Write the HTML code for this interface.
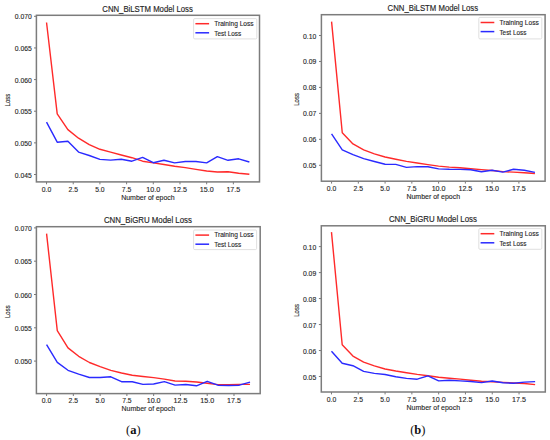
<!DOCTYPE html>
<html><head><meta charset="utf-8"><style>
html,body{margin:0;padding:0;background:#fff;}
svg{display:block;}

text{font-family:"Liberation Sans",sans-serif;fill:#262626;stroke:#262626;stroke-width:0.12px;}
.t{stroke-width:0.16px;}
.cap{font-family:"Liberation Serif",serif;fill:#111;stroke:none;}
</style></head><body><div>
<svg width="550" height="440" viewBox="0 0 550 440">
<rect width="550" height="440" fill="#fff"/>
<text class="t" x="147.55" y="11.5" font-size="8.6" text-anchor="middle" textLength="90.5" lengthAdjust="spacingAndGlyphs">CNN_BiLSTM Model Loss</text>
<line x1="34" y1="16.3" x2="36.4" y2="16.3" stroke="#6a6a6a" stroke-width="0.9"/>
<text x="31.8" y="19.3" font-size="6.8" text-anchor="end">0.070</text>
<line x1="34" y1="47.94" x2="36.4" y2="47.94" stroke="#6a6a6a" stroke-width="0.9"/>
<text x="31.8" y="50.94" font-size="6.8" text-anchor="end">0.065</text>
<line x1="34" y1="79.58" x2="36.4" y2="79.58" stroke="#6a6a6a" stroke-width="0.9"/>
<text x="31.8" y="82.58" font-size="6.8" text-anchor="end">0.060</text>
<line x1="34" y1="111.22" x2="36.4" y2="111.22" stroke="#6a6a6a" stroke-width="0.9"/>
<text x="31.8" y="114.22" font-size="6.8" text-anchor="end">0.055</text>
<line x1="34" y1="142.86" x2="36.4" y2="142.86" stroke="#6a6a6a" stroke-width="0.9"/>
<text x="31.8" y="145.86" font-size="6.8" text-anchor="end">0.050</text>
<line x1="34" y1="174.5" x2="36.4" y2="174.5" stroke="#6a6a6a" stroke-width="0.9"/>
<text x="31.8" y="177.5" font-size="6.8" text-anchor="end">0.045</text>
<line x1="46.54" y1="181.9" x2="46.54" y2="184.3" stroke="#6a6a6a" stroke-width="0.9"/>
<text x="46.54" y="191.7" font-size="6.8" text-anchor="middle">0.0</text>
<line x1="73.23" y1="181.9" x2="73.23" y2="184.3" stroke="#6a6a6a" stroke-width="0.9"/>
<text x="73.23" y="191.7" font-size="6.8" text-anchor="middle">2.5</text>
<line x1="99.91" y1="181.9" x2="99.91" y2="184.3" stroke="#6a6a6a" stroke-width="0.9"/>
<text x="99.91" y="191.7" font-size="6.8" text-anchor="middle">5.0</text>
<line x1="126.6" y1="181.9" x2="126.6" y2="184.3" stroke="#6a6a6a" stroke-width="0.9"/>
<text x="126.6" y="191.7" font-size="6.8" text-anchor="middle">7.5</text>
<line x1="153.29" y1="181.9" x2="153.29" y2="184.3" stroke="#6a6a6a" stroke-width="0.9"/>
<text x="153.29" y="191.7" font-size="6.8" text-anchor="middle" textLength="13.9" lengthAdjust="spacingAndGlyphs">10.0</text>
<line x1="179.97" y1="181.9" x2="179.97" y2="184.3" stroke="#6a6a6a" stroke-width="0.9"/>
<text x="179.97" y="191.7" font-size="6.8" text-anchor="middle" textLength="13.9" lengthAdjust="spacingAndGlyphs">12.5</text>
<line x1="206.66" y1="181.9" x2="206.66" y2="184.3" stroke="#6a6a6a" stroke-width="0.9"/>
<text x="206.66" y="191.7" font-size="6.8" text-anchor="middle" textLength="13.9" lengthAdjust="spacingAndGlyphs">15.0</text>
<line x1="233.35" y1="181.9" x2="233.35" y2="184.3" stroke="#6a6a6a" stroke-width="0.9"/>
<text x="233.35" y="191.7" font-size="6.8" text-anchor="middle" textLength="13.9" lengthAdjust="spacingAndGlyphs">17.5</text>
<text x="147.95" y="199.7" font-size="7.2" text-anchor="middle" textLength="53.6" lengthAdjust="spacingAndGlyphs">Number of epoch</text>
<text x="0" y="0" font-size="6.9" text-anchor="middle" textLength="12.8" lengthAdjust="spacingAndGlyphs" transform="translate(10.2,100.1) rotate(-90)">Loss</text>
<polyline points="46.54,22.5 57.22,113.9 67.89,129.6 78.56,138.2 89.24,144.6 99.91,149.3 110.59,152.1 121.26,155 131.94,157.7 142.61,161.2 153.29,162.9 163.96,164.5 174.64,166.2 185.31,167.6 195.99,169.4 206.66,171 217.34,172 228.01,171.8 238.68,173.3 249.36,174.3" fill="none" stroke="#ff2a2a" stroke-width="1.4" stroke-linejoin="round"/>
<polyline points="46.54,122.1 57.22,142.2 67.89,141.2 78.56,152.1 89.24,155.5 99.91,159.4 110.59,160.1 121.26,159.2 131.94,161.2 142.61,157.4 153.29,162.7 163.96,160.2 174.64,162.9 185.31,161.5 195.99,161.5 206.66,162.9 217.34,156.7 228.01,160.3 238.68,158.8 249.36,162" fill="none" stroke="#2a2aff" stroke-width="1.4" stroke-linejoin="round"/>
<rect x="193.6" y="18.6" width="63.2" height="20.3" rx="1.2" fill="#fff" fill-opacity="0.8" stroke="#d8d8d8" stroke-width="0.8"/>
<line x1="195.4" y1="23.7" x2="209.1" y2="23.7" stroke="#ff2a2a" stroke-width="1.5"/>
<line x1="195.4" y1="32.8" x2="209.1" y2="32.8" stroke="#2a2aff" stroke-width="1.5"/>
<text x="214.2" y="25.9" font-size="6.6" textLength="39.4" lengthAdjust="spacingAndGlyphs">Training Loss</text>
<text x="214.2" y="35.7" font-size="6.6" textLength="27" lengthAdjust="spacingAndGlyphs">Test Loss</text>
<rect x="36.4" y="15.3" width="223.1" height="166.6" fill="none" stroke="#7c7c7c" stroke-width="1.5"/>
<text class="t" x="432.85" y="10.9" font-size="8.6" text-anchor="middle" textLength="90.5" lengthAdjust="spacingAndGlyphs">CNN_BiLSTM Model Loss</text>
<line x1="319" y1="35.5" x2="321.4" y2="35.5" stroke="#6a6a6a" stroke-width="0.9"/>
<text x="316.3" y="38.5" font-size="6.8" text-anchor="end">0.10</text>
<line x1="319" y1="61.46" x2="321.4" y2="61.46" stroke="#6a6a6a" stroke-width="0.9"/>
<text x="316.3" y="64.46" font-size="6.8" text-anchor="end">0.09</text>
<line x1="319" y1="87.42" x2="321.4" y2="87.42" stroke="#6a6a6a" stroke-width="0.9"/>
<text x="316.3" y="90.42" font-size="6.8" text-anchor="end">0.08</text>
<line x1="319" y1="113.38" x2="321.4" y2="113.38" stroke="#6a6a6a" stroke-width="0.9"/>
<text x="316.3" y="116.38" font-size="6.8" text-anchor="end">0.07</text>
<line x1="319" y1="139.34" x2="321.4" y2="139.34" stroke="#6a6a6a" stroke-width="0.9"/>
<text x="316.3" y="142.34" font-size="6.8" text-anchor="end">0.06</text>
<line x1="319" y1="165.3" x2="321.4" y2="165.3" stroke="#6a6a6a" stroke-width="0.9"/>
<text x="316.3" y="168.3" font-size="6.8" text-anchor="end">0.05</text>
<line x1="331.57" y1="181.2" x2="331.57" y2="183.6" stroke="#6a6a6a" stroke-width="0.9"/>
<text x="331.57" y="191" font-size="6.8" text-anchor="middle">0.0</text>
<line x1="358.33" y1="181.2" x2="358.33" y2="183.6" stroke="#6a6a6a" stroke-width="0.9"/>
<text x="358.33" y="191" font-size="6.8" text-anchor="middle">2.5</text>
<line x1="385.08" y1="181.2" x2="385.08" y2="183.6" stroke="#6a6a6a" stroke-width="0.9"/>
<text x="385.08" y="191" font-size="6.8" text-anchor="middle">5.0</text>
<line x1="411.84" y1="181.2" x2="411.84" y2="183.6" stroke="#6a6a6a" stroke-width="0.9"/>
<text x="411.84" y="191" font-size="6.8" text-anchor="middle">7.5</text>
<line x1="438.6" y1="181.2" x2="438.6" y2="183.6" stroke="#6a6a6a" stroke-width="0.9"/>
<text x="438.6" y="191" font-size="6.8" text-anchor="middle" textLength="13.9" lengthAdjust="spacingAndGlyphs">10.0</text>
<line x1="465.36" y1="181.2" x2="465.36" y2="183.6" stroke="#6a6a6a" stroke-width="0.9"/>
<text x="465.36" y="191" font-size="6.8" text-anchor="middle" textLength="13.9" lengthAdjust="spacingAndGlyphs">12.5</text>
<line x1="492.12" y1="181.2" x2="492.12" y2="183.6" stroke="#6a6a6a" stroke-width="0.9"/>
<text x="492.12" y="191" font-size="6.8" text-anchor="middle" textLength="13.9" lengthAdjust="spacingAndGlyphs">15.0</text>
<line x1="518.88" y1="181.2" x2="518.88" y2="183.6" stroke="#6a6a6a" stroke-width="0.9"/>
<text x="518.88" y="191" font-size="6.8" text-anchor="middle" textLength="13.9" lengthAdjust="spacingAndGlyphs">17.5</text>
<text x="433.25" y="199" font-size="7.2" text-anchor="middle" textLength="53.6" lengthAdjust="spacingAndGlyphs">Number of epoch</text>
<text x="0" y="0" font-size="6.9" text-anchor="middle" textLength="12.8" lengthAdjust="spacingAndGlyphs" transform="translate(299.2,99.45) rotate(-90)">Loss</text>
<polyline points="331.57,21.6 342.27,132.8 352.97,143.9 363.68,149.8 374.38,153.9 385.08,157 395.79,159.2 406.49,161.4 417.19,163 427.9,164.6 438.6,166.1 449.31,167.1 460.01,167.8 470.71,168.8 481.42,169.6 492.12,170.5 502.82,171.6 513.53,172.1 524.23,172.8 534.93,173.5" fill="none" stroke="#ff2a2a" stroke-width="1.4" stroke-linejoin="round"/>
<polyline points="331.57,133.9 342.27,149.8 352.97,154.7 363.68,158.6 374.38,161.5 385.08,164.2 395.79,164.4 406.49,167.4 417.19,166.6 427.9,166.8 438.6,168.9 449.31,169.3 460.01,169.4 470.71,169.8 481.42,171.8 492.12,170.3 502.82,172.1 513.53,169.2 524.23,170.3 534.93,172.4" fill="none" stroke="#2a2aff" stroke-width="1.4" stroke-linejoin="round"/>
<rect x="478.8" y="17.4" width="63" height="21.5" rx="1.2" fill="#fff" fill-opacity="0.8" stroke="#d8d8d8" stroke-width="0.8"/>
<line x1="480.6" y1="22.5" x2="494.3" y2="22.5" stroke="#ff2a2a" stroke-width="1.5"/>
<line x1="480.6" y1="31.6" x2="494.3" y2="31.6" stroke="#2a2aff" stroke-width="1.5"/>
<text x="499.4" y="24.7" font-size="6.6" textLength="39.4" lengthAdjust="spacingAndGlyphs">Training Loss</text>
<text x="499.4" y="34.5" font-size="6.6" textLength="27" lengthAdjust="spacingAndGlyphs">Test Loss</text>
<rect x="321.4" y="14.7" width="223.7" height="166.5" fill="none" stroke="#7c7c7c" stroke-width="1.5"/>
<text class="t" x="147.9" y="222.9" font-size="8.6" text-anchor="middle" textLength="88" lengthAdjust="spacingAndGlyphs">CNN_BiGRU Model Loss</text>
<line x1="34" y1="227.9" x2="36.4" y2="227.9" stroke="#6a6a6a" stroke-width="0.9"/>
<text x="31.8" y="230.9" font-size="6.8" text-anchor="end">0.070</text>
<line x1="34" y1="261.2" x2="36.4" y2="261.2" stroke="#6a6a6a" stroke-width="0.9"/>
<text x="31.8" y="264.2" font-size="6.8" text-anchor="end">0.065</text>
<line x1="34" y1="294.5" x2="36.4" y2="294.5" stroke="#6a6a6a" stroke-width="0.9"/>
<text x="31.8" y="297.5" font-size="6.8" text-anchor="end">0.060</text>
<line x1="34" y1="327.8" x2="36.4" y2="327.8" stroke="#6a6a6a" stroke-width="0.9"/>
<text x="31.8" y="330.8" font-size="6.8" text-anchor="end">0.055</text>
<line x1="34" y1="361.1" x2="36.4" y2="361.1" stroke="#6a6a6a" stroke-width="0.9"/>
<text x="31.8" y="364.1" font-size="6.8" text-anchor="end">0.050</text>
<line x1="46.57" y1="393.6" x2="46.57" y2="396" stroke="#6a6a6a" stroke-width="0.9"/>
<text x="46.57" y="403.4" font-size="6.8" text-anchor="middle">0.0</text>
<line x1="73.34" y1="393.6" x2="73.34" y2="396" stroke="#6a6a6a" stroke-width="0.9"/>
<text x="73.34" y="403.4" font-size="6.8" text-anchor="middle">2.5</text>
<line x1="100.11" y1="393.6" x2="100.11" y2="396" stroke="#6a6a6a" stroke-width="0.9"/>
<text x="100.11" y="403.4" font-size="6.8" text-anchor="middle">5.0</text>
<line x1="126.88" y1="393.6" x2="126.88" y2="396" stroke="#6a6a6a" stroke-width="0.9"/>
<text x="126.88" y="403.4" font-size="6.8" text-anchor="middle">7.5</text>
<line x1="153.65" y1="393.6" x2="153.65" y2="396" stroke="#6a6a6a" stroke-width="0.9"/>
<text x="153.65" y="403.4" font-size="6.8" text-anchor="middle" textLength="13.9" lengthAdjust="spacingAndGlyphs">10.0</text>
<line x1="180.42" y1="393.6" x2="180.42" y2="396" stroke="#6a6a6a" stroke-width="0.9"/>
<text x="180.42" y="403.4" font-size="6.8" text-anchor="middle" textLength="13.9" lengthAdjust="spacingAndGlyphs">12.5</text>
<line x1="207.19" y1="393.6" x2="207.19" y2="396" stroke="#6a6a6a" stroke-width="0.9"/>
<text x="207.19" y="403.4" font-size="6.8" text-anchor="middle" textLength="13.9" lengthAdjust="spacingAndGlyphs">15.0</text>
<line x1="233.97" y1="393.6" x2="233.97" y2="396" stroke="#6a6a6a" stroke-width="0.9"/>
<text x="233.97" y="403.4" font-size="6.8" text-anchor="middle" textLength="13.9" lengthAdjust="spacingAndGlyphs">17.5</text>
<text x="148.3" y="411.4" font-size="7.2" text-anchor="middle" textLength="53.6" lengthAdjust="spacingAndGlyphs">Number of epoch</text>
<text x="0" y="0" font-size="6.9" text-anchor="middle" textLength="12.8" lengthAdjust="spacingAndGlyphs" transform="translate(10.3,311.65) rotate(-90)">Loss</text>
<polyline points="46.57,233.6 57.28,330.7 67.99,347.9 78.7,356.3 89.41,362.5 100.11,366.6 110.82,370.4 121.53,373 132.24,375.2 142.95,376.5 153.65,377.6 164.36,379.1 175.07,381 185.78,381.3 196.49,382 207.19,383.2 217.9,384.6 228.61,384.6 239.32,384.4 250.03,384.4" fill="none" stroke="#ff2a2a" stroke-width="1.4" stroke-linejoin="round"/>
<polyline points="46.57,344.6 57.28,362.4 67.99,370.3 78.7,374.1 89.41,377.5 100.11,377.5 110.82,376.8 121.53,381.7 132.24,381.7 142.95,384.4 153.65,384 164.36,381.6 175.07,385.1 185.78,384.5 196.49,385.8 207.19,381.3 217.9,385.2 228.61,385.5 239.32,385.2 250.03,382.1" fill="none" stroke="#2a2aff" stroke-width="1.4" stroke-linejoin="round"/>
<rect x="193.6" y="230" width="63" height="19.6" rx="1.2" fill="#fff" fill-opacity="0.8" stroke="#d8d8d8" stroke-width="0.8"/>
<line x1="195.4" y1="235.1" x2="209.1" y2="235.1" stroke="#ff2a2a" stroke-width="1.5"/>
<line x1="195.4" y1="244.2" x2="209.1" y2="244.2" stroke="#2a2aff" stroke-width="1.5"/>
<text x="214.2" y="237.3" font-size="6.6" textLength="39.4" lengthAdjust="spacingAndGlyphs">Training Loss</text>
<text x="214.2" y="247.1" font-size="6.6" textLength="27" lengthAdjust="spacingAndGlyphs">Test Loss</text>
<rect x="36.4" y="226.7" width="223.8" height="166.9" fill="none" stroke="#7c7c7c" stroke-width="1.5"/>
<text class="t" x="432.9" y="222" font-size="8.6" text-anchor="middle" textLength="88" lengthAdjust="spacingAndGlyphs">CNN_BiGRU Model Loss</text>
<line x1="318.9" y1="246.6" x2="321.3" y2="246.6" stroke="#6a6a6a" stroke-width="0.9"/>
<text x="316.2" y="249.6" font-size="6.8" text-anchor="end">0.10</text>
<line x1="318.9" y1="272.58" x2="321.3" y2="272.58" stroke="#6a6a6a" stroke-width="0.9"/>
<text x="316.2" y="275.58" font-size="6.8" text-anchor="end">0.09</text>
<line x1="318.9" y1="298.56" x2="321.3" y2="298.56" stroke="#6a6a6a" stroke-width="0.9"/>
<text x="316.2" y="301.56" font-size="6.8" text-anchor="end">0.08</text>
<line x1="318.9" y1="324.54" x2="321.3" y2="324.54" stroke="#6a6a6a" stroke-width="0.9"/>
<text x="316.2" y="327.54" font-size="6.8" text-anchor="end">0.07</text>
<line x1="318.9" y1="350.52" x2="321.3" y2="350.52" stroke="#6a6a6a" stroke-width="0.9"/>
<text x="316.2" y="353.52" font-size="6.8" text-anchor="end">0.06</text>
<line x1="318.9" y1="376.5" x2="321.3" y2="376.5" stroke="#6a6a6a" stroke-width="0.9"/>
<text x="316.2" y="379.5" font-size="6.8" text-anchor="end">0.05</text>
<line x1="331.48" y1="392" x2="331.48" y2="394.4" stroke="#6a6a6a" stroke-width="0.9"/>
<text x="331.48" y="401.8" font-size="6.8" text-anchor="middle">0.0</text>
<line x1="358.28" y1="392" x2="358.28" y2="394.4" stroke="#6a6a6a" stroke-width="0.9"/>
<text x="358.28" y="401.8" font-size="6.8" text-anchor="middle">2.5</text>
<line x1="385.07" y1="392" x2="385.07" y2="394.4" stroke="#6a6a6a" stroke-width="0.9"/>
<text x="385.07" y="401.8" font-size="6.8" text-anchor="middle">5.0</text>
<line x1="411.86" y1="392" x2="411.86" y2="394.4" stroke="#6a6a6a" stroke-width="0.9"/>
<text x="411.86" y="401.8" font-size="6.8" text-anchor="middle">7.5</text>
<line x1="438.66" y1="392" x2="438.66" y2="394.4" stroke="#6a6a6a" stroke-width="0.9"/>
<text x="438.66" y="401.8" font-size="6.8" text-anchor="middle" textLength="13.9" lengthAdjust="spacingAndGlyphs">10.0</text>
<line x1="465.45" y1="392" x2="465.45" y2="394.4" stroke="#6a6a6a" stroke-width="0.9"/>
<text x="465.45" y="401.8" font-size="6.8" text-anchor="middle" textLength="13.9" lengthAdjust="spacingAndGlyphs">12.5</text>
<line x1="492.25" y1="392" x2="492.25" y2="394.4" stroke="#6a6a6a" stroke-width="0.9"/>
<text x="492.25" y="401.8" font-size="6.8" text-anchor="middle" textLength="13.9" lengthAdjust="spacingAndGlyphs">15.0</text>
<line x1="519.04" y1="392" x2="519.04" y2="394.4" stroke="#6a6a6a" stroke-width="0.9"/>
<text x="519.04" y="401.8" font-size="6.8" text-anchor="middle" textLength="13.9" lengthAdjust="spacingAndGlyphs">17.5</text>
<text x="433.3" y="409.8" font-size="7.2" text-anchor="middle" textLength="53.6" lengthAdjust="spacingAndGlyphs">Number of epoch</text>
<text x="0" y="0" font-size="6.9" text-anchor="middle" textLength="12.8" lengthAdjust="spacingAndGlyphs" transform="translate(299.2,310.4) rotate(-90)">Loss</text>
<polyline points="331.48,232.1 342.2,344.8 352.92,356.1 363.63,362.1 374.35,365.9 385.07,369 395.79,371 406.51,372.7 417.22,374.4 427.94,375.7 438.66,377.3 449.38,378.3 460.09,379.1 470.81,380.2 481.53,381.3 492.25,381.8 502.97,382.4 513.68,383 524.4,383.5 535.12,384.6" fill="none" stroke="#ff2a2a" stroke-width="1.4" stroke-linejoin="round"/>
<polyline points="331.48,351.3 342.2,363.2 352.92,365.7 363.63,371.4 374.35,373.4 385.07,374.5 395.79,376.8 406.51,378.4 417.22,379.2 427.94,375.9 438.66,380.9 449.38,380.2 460.09,380.9 470.81,381.5 481.53,382.6 492.25,381 502.97,382.8 513.68,383.2 524.4,382.1 535.12,381.6" fill="none" stroke="#2a2aff" stroke-width="1.4" stroke-linejoin="round"/>
<rect x="478.8" y="228.6" width="63" height="20.7" rx="1.2" fill="#fff" fill-opacity="0.8" stroke="#d8d8d8" stroke-width="0.8"/>
<line x1="480.6" y1="233.7" x2="494.3" y2="233.7" stroke="#ff2a2a" stroke-width="1.5"/>
<line x1="480.6" y1="242.8" x2="494.3" y2="242.8" stroke="#2a2aff" stroke-width="1.5"/>
<text x="499.4" y="235.9" font-size="6.6" textLength="39.4" lengthAdjust="spacingAndGlyphs">Training Loss</text>
<text x="499.4" y="245.7" font-size="6.6" textLength="27" lengthAdjust="spacingAndGlyphs">Test Loss</text>
<rect x="321.3" y="225.8" width="224" height="166.2" fill="none" stroke="#7c7c7c" stroke-width="1.5"/>
<text class="cap" x="133.3" y="434.3" font-size="12.5" text-anchor="middle">(<tspan font-weight="bold">a</tspan>)</text>
<text class="cap" x="417.8" y="434.2" font-size="12.5" text-anchor="middle">(<tspan font-weight="bold">b</tspan>)</text>
</svg></div>
</body></html>
